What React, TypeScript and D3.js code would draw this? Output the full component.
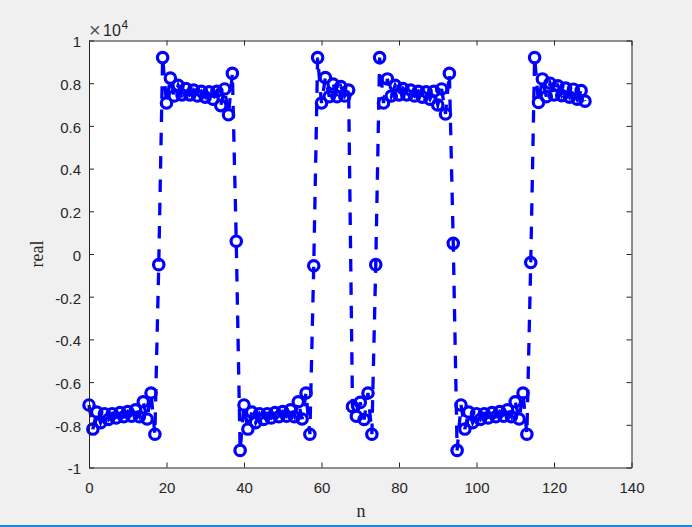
import { axisBottom, axisLeft, axisRight, axisTop, line, scaleLinear, select, type Selection } from 'd3';
import { useEffect, useRef } from 'react';

const WIDTH = 692;
const HEIGHT = 527;
const MARGIN = { top: 40.5, right: 60.5, bottom: 59.5, left: 89 };

const xTicks = [0, 20, 40, 60, 80, 100, 120, 140];
const yTicks = [-1, -0.8, -0.6, -0.4, -0.2, 0, 0.2, 0.4, 0.6, 0.8, 1];

// real part, in units of 10^4, n = 0..128
const lobeA = [-0.707, -0.82, -0.74, -0.79, -0.748, -0.775, -0.748, -0.768, -0.743, -0.762, -0.738, -0.76, -0.73, -0.762, -0.692, -0.773, -0.651, -0.844, -0.05, 0.92];
const lobeB = [0.707, 0.824, 0.74, 0.79, 0.745, 0.775, 0.745, 0.768, 0.74, 0.762, 0.735, 0.76, 0.725, 0.762, 0.695, 0.773, 0.652, 0.846, 0.06, -0.92];
const lobeC = [-0.707, -0.82, -0.74, -0.79, -0.748, -0.775, -0.748, -0.768, -0.743, -0.762, -0.738, -0.76, -0.73, -0.762, -0.692, -0.773, -0.651, -0.844, -0.055, 0.92];
const lobeD = [0.707, 0.826, 0.737, 0.796, 0.737, 0.784, 0.74, 0.768];
const lobeE = [-0.715, -0.76, -0.695, -0.775, -0.651, -0.844, -0.05, 0.92];
const lobeF = [0.707, 0.82, 0.74, 0.79, 0.745, 0.775, 0.745, 0.768, 0.74, 0.762, 0.735, 0.76, 0.725, 0.762, 0.698, 0.773, 0.656, 0.846, 0.05, -0.92];
const lobeG = [-0.707, -0.82, -0.74, -0.79, -0.748, -0.775, -0.748, -0.768, -0.743, -0.762, -0.738, -0.76, -0.73, -0.762, -0.692, -0.773, -0.651, -0.844, -0.04, 0.92];
const lobeH = [0.71, 0.82, 0.737, 0.8, 0.745, 0.788, 0.742, 0.777, 0.735, 0.772, 0.725, 0.765, 0.716];

const values = [...lobeA, ...lobeB, ...lobeC, ...lobeD, ...lobeE, ...lobeF, ...lobeG, ...lobeH];

const BLUE = '#0000ff';
const AXIS = '#262626';
const SANS = '"Liberation Sans", Arial, sans-serif';
const SERIF = '"Liberation Serif", "Times New Roman", serif';

const styleAxis = (g: Selection<SVGGElement, unknown, null, undefined>) => {
  g.select('.domain').attr('stroke', AXIS).attr('stroke-width', 1);
  g.selectAll('line').attr('stroke', AXIS).attr('stroke-width', 1);
  g.selectAll('text').attr('fill', AXIS).attr('font-size', 15).attr('font-family', SANS);
};

export default function App() {
  const bottomRef = useRef<SVGGElement | null>(null);
  const leftRef = useRef<SVGGElement | null>(null);
  const topRef = useRef<SVGGElement | null>(null);
  const rightRef = useRef<SVGGElement | null>(null);

  const x0 = MARGIN.left;
  const x1 = WIDTH - MARGIN.right;
  const y0 = HEIGHT - MARGIN.bottom;
  const y1 = MARGIN.top;

  const xScale = scaleLinear().domain([0, 140]).range([x0, x1]);
  const yScale = scaleLinear().domain([-1, 1]).range([y0, y1]);

  useEffect(() => {
    if (!bottomRef.current || !leftRef.current || !topRef.current || !rightRef.current) {
      return;
    }

    select(bottomRef.current)
      .call(axisBottom(xScale).tickValues(xTicks).tickSize(-5).tickSizeOuter(0).tickPadding(14.5).tickFormat((d) => String(d)))
      .call(styleAxis);
    select(leftRef.current)
      .call(axisLeft(yScale).tickValues(yTicks).tickSize(-5).tickSizeOuter(0).tickPadding(8).tickFormat((d) => String(d)))
      .call(styleAxis)
      .call((g) => g.selectAll('text').attr('dy', '0.42em'));
    select(topRef.current)
      .call(axisTop(xScale).tickValues(xTicks).tickSize(-5).tickSizeOuter(0).tickFormat(() => ''))
      .call(styleAxis);
    select(rightRef.current)
      .call(axisRight(yScale).tickValues(yTicks).tickSize(-5).tickSizeOuter(0).tickFormat(() => ''))
      .call(styleAxis);
  }, []);

  const path = line<number>()
    .x((_, i) => xScale(i))
    .y((d) => yScale(d))(values);

  return (
    <svg
      width={WIDTH}
      height={HEIGHT}
      viewBox={`0 0 ${WIDTH} ${HEIGHT}`}
      style={{ position: 'absolute', left: 0, top: 0, display: 'block' }}
    >
      <rect width={WIDTH} height={HEIGHT} fill="#f0f0f0" />
      <rect x={0} y={525} width={WIDTH} height={2} fill="#1e88e5" />
      <rect x={x0} y={y1} width={x1 - x0} height={y0 - y1} fill="#ffffff" />

      <path d={path ?? ''} fill="none" stroke={BLUE} strokeWidth={3.3} strokeDasharray="12.5 10.8" />
      <g>
        {values.map((v, i) => (
          <circle key={i} cx={xScale(i)} cy={yScale(v)} r={5.2} fill="none" stroke={BLUE} strokeWidth={3.2} />
        ))}
      </g>

      <g ref={bottomRef} transform={`translate(0, ${y0})`} />
      <g ref={leftRef} transform={`translate(${x0}, 0)`} />
      <g ref={topRef} transform={`translate(0, ${y1})`} />
      <g ref={rightRef} transform={`translate(${x1}, 0)`} />

      <text x={89} y={37} fill="#555555" fontSize={20} fontWeight={300} fontFamily={SANS}>×</text>
      <text x={103} y={36} fill={AXIS} fontSize={16} fontFamily={SANS}>10</text>
      <text x={121.5} y={29} fill={AXIS} fontSize={12} fontFamily={SANS}>4</text>

      <text x={361} y={517} fill={AXIS} fontSize={18} textAnchor="middle" fontFamily={SERIF}>
        n
      </text>
      <text
        fill={AXIS}
        fontSize={18}
        textAnchor="middle"
        fontFamily={SERIF}
        transform={`translate(43 254) rotate(-90)`}
      >
        real
      </text>
    </svg>
  );
}
